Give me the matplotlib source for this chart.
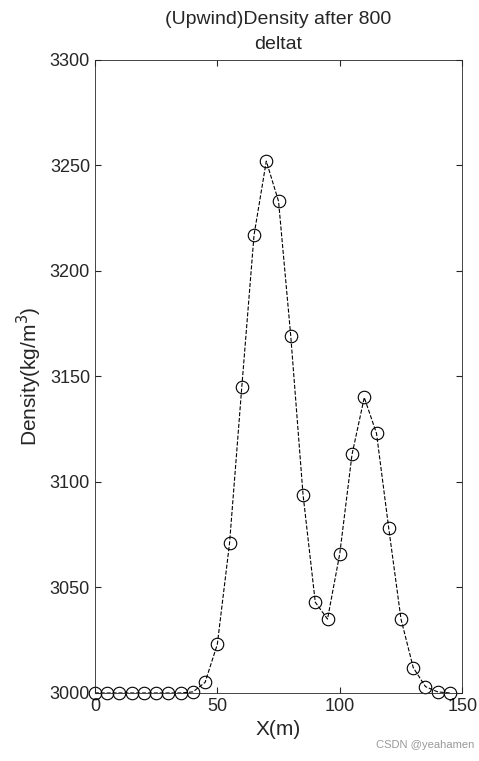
import numpy as np
import matplotlib
matplotlib.use("Agg")
import matplotlib.pyplot as plt

plt.rcParams['font.family'] = ['Liberation Sans', 'DejaVu Sans']

# data
x_m = list(range(0, 150, 5))
density = [3000, 3000, 3000, 3000, 3000, 3000, 3000, 3000, 3000.5, 3005,
           3023, 3071, 3145, 3217, 3252, 3233, 3169, 3094, 3043, 3035,
           3066, 3113, 3140, 3123, 3078, 3035, 3012, 3003, 3000.5, 3000]

fig = plt.figure(figsize=(4.79, 7.61), dpi=100)
ax = fig.add_axes([0.198, 0.0894, 0.767, 0.832])

ax.plot(x_m, density, '--', color='black', linewidth=0.8)
ax.plot(x_m, density, 'o', markerfacecolor='none', markeredgecolor='black',
        markersize=9, markeredgewidth=0.8, clip_on=False)

ax.set_xlim(0, 150)
ax.set_ylim(3000, 3300)
ax.set_xticks([0, 50, 100, 150])
ax.set_yticks(range(3000, 3301, 50))
ax.tick_params(labelsize=13, direction='in', top=True, right=True, length=4,
               labelcolor='#262626', color='#262626')
for s in ax.spines.values():
    s.set_linewidth(0.6)
    s.set_color('#262626')

ax.set_xlabel('X(m)', fontsize=15, color='#262626')
ax.set_ylabel('Density(kg/m$^3$)', fontsize=15, color='#262626')
ax.set_title('(Upwind)Density after 800\ndeltat', fontsize=14,
             linespacing=1.6, pad=8, color='#262626')

fig.text(0.99, 0.015, 'CSDN @yeahamen', ha='right', va='bottom',
         fontsize=8, color='#999999')

fig.savefig('out.png', dpi=100)
